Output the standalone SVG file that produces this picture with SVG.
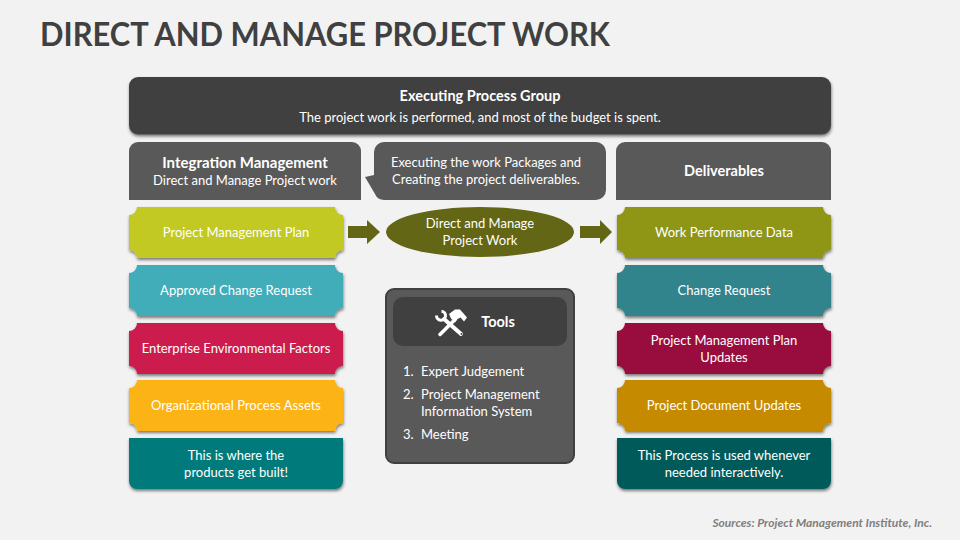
<svg xmlns="http://www.w3.org/2000/svg" width="960" height="540" viewBox="0 0 960 540">
<style>
text{font-family:"Lato","Carlito","Open Sans",sans-serif;fill:#fff;text-anchor:middle;font-size:13px}
.b{font-weight:700;font-size:14.5px}
.l{text-anchor:start}
.dark{fill:#595959}
.arrow{fill:#636614}
</style>
<defs>
<filter id="s" x="-5%" y="-10%" width="110%" height="125%"><feDropShadow dx="0.5" dy="2" stdDeviation="1.5" flood-color="#000" flood-opacity="0.5"/></filter>
<path id="p" d="M8 0H206A8 8 0 0 0 214 8V43A8 8 0 0 0 206 51H8A8 8 0 0 0 0 43V8A8 8 0 0 0 8 0Z"/>
</defs>
<rect width="960" height="540" fill="#f2f2f2"/>
<text x="40" y="46" class="l" textLength="570" lengthAdjust="spacingAndGlyphs" style="font-size:32px;font-weight:700;fill:#404040">DIRECT AND MANAGE PROJECT WORK</text>
<g id="banner">
<rect x="129" y="77" width="702" height="57.500" rx="9" fill="#404040" filter="url(#s)"/>
<text x="480" y="101" class="b">Executing Process Group</text>
<text x="480" y="122">The project work is performed, and most of the budget is spent.</text>
</g>
<g id="integration">
<path class="dark" d="M129 200V151A9 9 0 0 1 138 142H352A9 9 0 0 1 361 151V200Z"/>
<text x="245" y="168" class="b" style="font-size:15px">Integration Management</text>
<text x="245" y="185">Direct and Manage Project work</text>
</g>
<g id="bubble">
<path class="dark" d="M384 142H596A10 10 0 0 1 606 152V190A10 10 0 0 1 596 200H384A10 10 0 0 1 375 194L365 177L374 175V152A10 10 0 0 1 384 142Z"/>
<text x="486" y="167">Executing the work Packages and</text>
<text x="486" y="184">Creating the project deliverables.</text>
</g>
<g id="deliverables">
<path class="dark" d="M616 200V151A9 9 0 0 1 625 142H822A9 9 0 0 1 831 151V200Z"/>
<text x="724" y="176" class="b">Deliverables</text>
</g>
<g id="in1"><use href="#p" transform="translate(129 207)" fill="#c1c920" filter="url(#s)"/><text x="236" y="237">Project Management Plan</text></g>
<g id="in2"><use href="#p" transform="translate(129 265)" fill="#40adb9" filter="url(#s)"/><text x="236" y="295">Approved Change Request</text></g>
<g id="in3"><use href="#p" transform="translate(129 323)" fill="#cc1b4e" filter="url(#s)"/><text x="236" y="353">Enterprise Environmental Factors</text></g>
<g id="in4"><use href="#p" transform="translate(129 380)" fill="#fbb317" filter="url(#s)"/><text x="236" y="410">Organizational Process Assets</text></g>
<g id="note-left">
<path d="M129 438H343V481A8 8 0 0 1 335 489H137A8 8 0 0 1 129 481Z" fill="#007a7a" filter="url(#s)"/>
<text x="236" y="459.500">This is where the</text>
<text x="236" y="476.500">products get built!</text>
</g>
<g id="connectors">
<path class="arrow" d="M348 226H367V220L380 232L367 244V238H348Z"/>
<path class="arrow" d="M580 226H600V220L612 232L600 244V238H580Z"/>
</g>
<g id="process">
<ellipse cx="480" cy="232" rx="94" ry="25" fill="#636614"/>
<text x="480" y="228">Direct and Manage</text>
<text x="480" y="245">Project Work</text>
</g>
<g id="tools">
<rect x="386" y="289" width="188" height="174" rx="8" fill="#595959" stroke="#404040" stroke-width="2"/>
<rect x="393" y="297" width="174" height="49" rx="10" fill="#404040"/>
<g id="tools-icon" fill="none" stroke="#fff">
<path stroke-width="3" d="M441.500 311.200A4.500 4.500 0 1 1 436.500 315.500"/>
<path stroke-width="4" stroke-linecap="round" d="M444 319L461 334"/>
<circle cx="461.500" cy="334" r="1" fill="#404040" stroke="none"/>
<path stroke-width="3.500" stroke-linecap="round" d="M440 334.500L455 319.500"/>
<path fill="#fff" stroke="none" d="M449 314L455 309.500L460 309.500L467 317.500L464 321.500L460.500 317.500L457.500 319L455 322.500L451 318.500Z"/>
</g>
<text x="498" y="327" style="font-weight:700;font-size:14.500px">Tools</text>
<g id="tools-list">
<text class="l" x="403" y="376">1.</text><text class="l" x="421" y="376">Expert Judgement</text>
<text class="l" x="403" y="399">2.</text><text class="l" x="421" y="399">Project Management</text>
<text class="l" x="421" y="416">Information System</text>
<text class="l" x="403" y="439">3.</text><text class="l" x="421" y="439">Meeting</text>
</g>
</g>
<g id="out1"><use href="#p" transform="translate(617 207)" fill="#8f9618" filter="url(#s)"/><text x="724" y="237">Work Performance Data</text></g>
<g id="out2"><use href="#p" transform="translate(617 265)" fill="#33848c" filter="url(#s)"/><text x="724" y="295">Change Request</text></g>
<g id="out3"><use href="#p" transform="translate(617 323)" fill="#98103c" filter="url(#s)"/><text x="724" y="345">Project Management Plan</text><text x="724" y="362">Updates</text></g>
<g id="out4"><use href="#p" transform="translate(617 380)" fill="#c58a05" filter="url(#s)"/><text x="724" y="410">Project Document Updates</text></g>
<g id="note-right">
<path d="M617 438H831V481A8 8 0 0 1 823 489H625A8 8 0 0 1 617 481Z" fill="#005a5a" filter="url(#s)"/>
<text x="724" y="459.500">This Process is used whenever</text>
<text x="724" y="476.500">needed interactively.</text>
</g>
<text x="932" y="527" style="text-anchor:end;font-size:12px;font-weight:700;font-style:italic;fill:#7f7f7f">Sources: Project Management Institute, Inc.</text>
</svg>
